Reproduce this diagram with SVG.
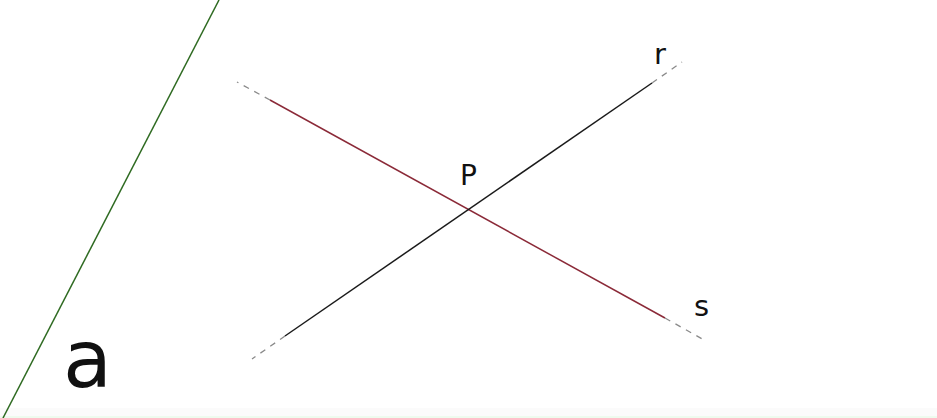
<svg xmlns="http://www.w3.org/2000/svg" width="937" height="418" viewBox="0 0 937 418">
<style>
.lbl{font-family:"DejaVu Sans",Verdana,sans-serif;fill:#111;}
.dash{stroke:#8a8a8a;stroke-width:1.3;stroke-dasharray:6 6;fill:none;}
.r{stroke:#1a1a1a;stroke-width:1.5;fill:none;}
.s{stroke:#8b2a38;stroke-width:1.5;fill:none;}
.plane{stroke:#2f6b22;stroke-width:1.5;fill:none;}
</style>
<rect width="937" height="418" fill="#ffffff"/>
<rect x="0" y="408" width="937" height="8" fill="#fbfbfb"/>
<line x1="0" y1="417" x2="937" y2="417" stroke="#eefbee" stroke-width="2"/>
<g id="connectors">
<line class="plane" x1="219" y1="0" x2="3" y2="418"/>
<line class="dash" x1="270" y1="100" x2="237" y2="82"/>
<line class="s" x1="270" y1="100" x2="665" y2="318"/>
<line class="dash" x1="665" y1="318" x2="704" y2="340"/>
<line class="dash" x1="652" y1="83" x2="682" y2="62"/>
<line class="r" x1="652" y1="83" x2="285" y2="336"/>
<line class="dash" x1="285" y1="336" x2="252" y2="359"/>
</g>
<g id="plane-alpha"><text class="lbl" x="63" y="387" font-size="80">a</text></g>
<g id="line-r"><text class="lbl" x="654" y="64" font-size="29">r</text></g>
<g id="line-s"><text class="lbl" x="694" y="316" font-size="29">s</text></g>
<g id="point-P"><text class="lbl" x="460" y="185" font-size="28">P</text></g>
</svg>
